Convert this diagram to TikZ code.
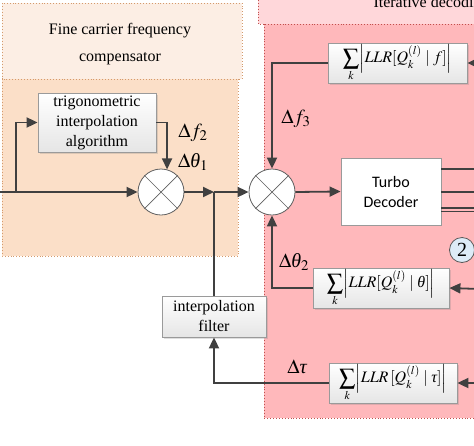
\documentclass[tikz,border=0pt]{standalone}
\usepackage{mathptmx}
\usepackage{fontspec}
\setmainfont{Liberation Serif}
\newfontfamily\sansc{Carlito}
\newcommand{\ithet}{\mathord{\hbox{\itshape θ}}}
\newcommand{\itau}{\mathord{\hbox{\itshape τ}}}
\usetikzlibrary{arrows.meta,shadows,calc}
\definecolor{peach}{HTML}{FBDFC8}
\definecolor{peachhead}{HTML}{FCEEE4}
\definecolor{pinkbg}{HTML}{FFB8BB}
\definecolor{pinkhead}{HTML}{FFD7DA}
\definecolor{lineclr}{HTML}{404040}
\definecolor{peachborder}{HTML}{D49A6C}
\definecolor{pinkborder}{HTML}{C0504D}
\definecolor{boxborder}{HTML}{9A9A9A}
\definecolor{bubble}{HTML}{DDEBF7}
\begin{document}
\begin{tikzpicture}[x=1pt,y=-1pt,
  font=\fontsize{16}{20}\selectfont,
  conn/.style={draw=lineclr, line width=1.8pt},
  arr/.style={conn, -{Triangle[length=11pt,width=10pt]}},
  graybox/.style={draw=boxborder, line width=0.8pt, top color=white, bottom color=gray!20,
    drop shadow={opacity=0.25,shadow xshift=1.5pt,shadow yshift=-1.5pt},
    inner sep=0pt, align=center},
  mult/.style={circle, draw=gray!75!black, line width=0.8pt, fill=white,
    minimum size=46pt, inner sep=0pt},
  xline/.style={draw=gray!75!black, line width=0.7pt},
  mlabel/.style={font=\fontsize{20}{22}\selectfont},
  region/.style={dotted, line width=0.9pt}
]
\useasboundingbox (0,0) rectangle (474,445);
\clip (0,0) rectangle (474,445);

% regions
\fill[peachhead] (2,3) rectangle (242,79);
\draw[region, draw=peachborder] (2,3) rectangle (242,79);
\fill[peach] (2,79) rectangle (238,256);
\draw[region, draw=peachborder] (2,79) rectangle (238,256);
\fill[pinkhead] (258,-3) rectangle (480,24);
\draw[region, draw=pinkborder] (258,-3) rectangle (480,24);
\fill[pinkbg] (264,24) rectangle (480,418);
\draw[region, draw=pinkborder] (264,24) rectangle (480,418);

% titles
\node[align=center, font=\fontsize{16}{27}\selectfont] (title) at (120,44) {Fine carrier frequency\\compensator};
\node[anchor=base west] (iter) at (370,7) {Iterative decoding};

% blocks
\node[graybox, minimum width=118pt, minimum height=59pt] (trig) at (97,122.5)
  {trigonometric\\interpolation\\algorithm};
\node[graybox, minimum width=104pt, minimum height=41pt] (interp) at (214,316.5)
  {interpolation\\filter};
\node[mult] (m1) at (161,192) {};
\node[mult] (m2) at (272,192) {};
\foreach \m in {m1,m2}{
  \draw[xline] (\m.45) -- (\m.225);
  \draw[xline] (\m.135) -- (\m.315);
}
\node[draw=boxborder, line width=0.8pt, fill=white, minimum width=100pt, minimum height=67pt,
  align=center, font=\sansc\fontsize{16}{20}\selectfont] (turbo) at (391,191.5) {Turbo\\Decoder};
\node[graybox, minimum width=139pt, minimum height=40pt] (sumf) at (397.5,63)
  {$\displaystyle\sum_{k}\Bigl|LLR[Q_k^{(l)}\mid f]\Bigr|$};
\node[graybox, minimum width=136pt, minimum height=40pt] (sumt) at (381,288)
  {$\displaystyle\sum_{k}\Bigl|LLR[Q_k^{(l)}\mid \ithet]\Bigr|$};
\node[graybox, minimum width=128pt, minimum height=40pt] (sumtau) at (393,383)
  {$\displaystyle\sum_{k}\Bigl|LLR\,[Q_k^{(l)}\mid \itau]\Bigr|$};
\node[circle, draw=gray!70!black, line width=0.8pt, fill=bubble, minimum size=25pt, inner sep=0pt,
  font=\fontsize{20}{20}\selectfont] (two) at (462,250) {2};

% labels
\node[mlabel] (lf2) at (193,133) {$\Delta f_2$};
\node[mlabel] (lt1) at (193,162) {$\Delta\ithet_1$};
\node[mlabel] (lf3) at (296,119) {$\Delta f_3$};
\node[mlabel] (lt2) at (294,262) {$\Delta\ithet_2$};
\node[mlabel] (ltau) at (297,367) {$\Delta\itau$};

% coordinates
\coordinate (in) at (-5,192);
\coordinate (br) at (16,192);
\coordinate (jn) at (interp.north |- m1.east);
\coordinate (inF) at (480,63);
\coordinate (inT) at (480,289);
\coordinate (inTau) at (480,383);
\coordinate (o1) at (480,169);
\coordinate (o2) at (480,192);
\coordinate (o3) at (480,208);
\coordinate (o4) at (480,211.5);

% connectors
\draw[arr] (in) -- (m1.west);
\draw[arr] (br) |- (trig.west);
\draw[arr] (trig.east) -| (m1.75);
\draw[arr] (m1.east) -- (jn);
\draw[arr] (jn) -- (m2.west);
\draw[conn] (interp.north) -- (jn);
\draw[arr] (m2.east) -- (turbo.west);
\draw[arr] (sumf.west) -| (m2.north);
\draw[arr] (sumt.west) -| (m2.south);
\draw[arr] (sumtau.west) -| (interp.south);
\draw[arr] (inF) -- (sumf.east);
\draw[arr] (inT) -- (sumt.east);
\draw[arr] (inTau) -- (sumtau.east);
\draw[conn] (turbo.east |- o1) -- (o1);
\draw[conn] (turbo.east |- o2) -- (o2);
\draw[conn, line width=1.3pt] (turbo.east |- o3) -- (o3);
\draw[conn, line width=1.3pt] (turbo.east |- o4) -- (o4);
\end{tikzpicture}
\end{document}
